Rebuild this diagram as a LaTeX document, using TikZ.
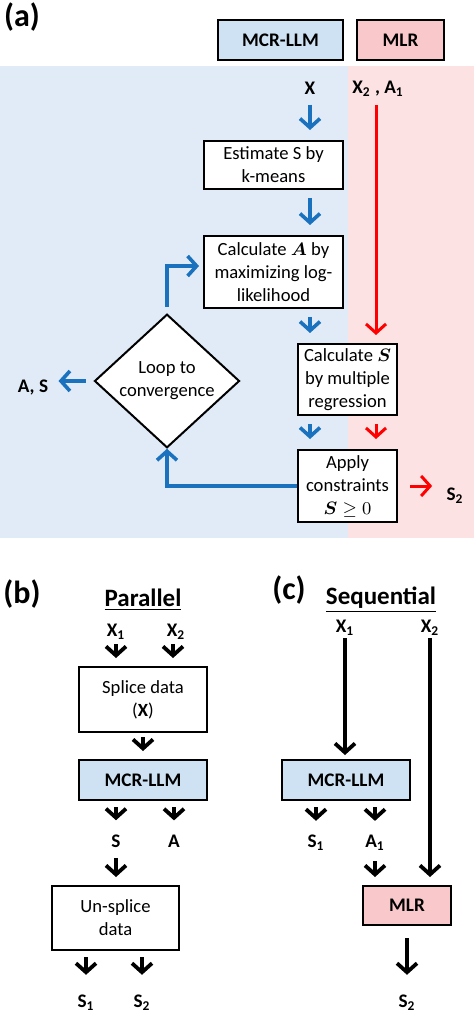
\documentclass[tikz,border=0pt]{standalone}
\usepackage{fontspec}
\setmainfont{Carlito}
\usepackage{amsmath}
\usepackage{amssymb}
\usetikzlibrary{arrows.meta,shapes.geometric}

\definecolor{mcrfill}{HTML}{CFE2F3}
\definecolor{mcrback}{HTML}{E0EBF7}
\definecolor{mlrfill}{HTML}{F9C8CB}
\definecolor{mlrback}{HTML}{FDE2E3}
\definecolor{mcrblue}{HTML}{1A72BE}
\definecolor{mlrred}{HTML}{FF0000}

\tikzset{
	box/.style={draw, line width=1pt, fill=white, align=center, inner sep=0pt,
		font=\fontsize{9.3}{11.5}\selectfont},
	mcrbox/.style={box, fill=mcrfill, font=\bfseries\fontsize{9.6}{11}\selectfont},
	mlrbox/.style={box, fill=mlrfill, font=\bfseries\fontsize{9.6}{11}\selectfont},
	lbl/.style={inner sep=1pt, font=\bfseries\fontsize{9.6}{11}\selectfont},
	panel/.style={inner sep=0pt, font=\bfseries\fontsize{16}{18}\selectfont},
	heading/.style={inner sep=0pt, font=\bfseries\fontsize{12.5}{14}\selectfont},
	barrow/.style={draw=mcrblue, line width=1.8pt, -{Straight Barb[length=4.5pt,width=10pt]}},
	rarrow/.style={draw=mlrred, line width=1.5pt, -{Straight Barb[length=4.5pt,width=10pt]}},
	karrow/.style={draw=black, line width=1.9pt, -{Straight Barb[length=4.5pt,width=10pt]}},
	gap/.style={shorten <=4pt, shorten >=5pt}
}

\begin{document}
\begin{tikzpicture}[x=0.5pt, y=-0.5pt]
	
	\useasboundingbox (0,0) rectangle (474,1015);
	
	% (a)
	\fill[mcrback] (0,66) rectangle (348,538);
	\fill[mlrback] (348,66) rectangle (474,538);
	
	\node[panel] (pa) at (22,17) {(a)};
	\node[mcrbox, minimum width=62.5pt, minimum height=20pt] (hmcr) at (280.5,40) {MCR-LLM};
	\node[mlrbox, minimum width=43.5pt, minimum height=20pt] (hmlr) at (400.5,40) {MLR};
	
	\node[lbl] (x) at (310,88) {X};
	\node[lbl] (xa) at (378,89) {X\textsubscript{2} , A\textsubscript{1}};
	
	\node[box, minimum width=69.5pt, minimum height=24pt] (est) at (273.5,165) {Estimate S by\\k-means};
	\node[box, minimum width=69.5pt, minimum height=36pt] (calcA) at (273.5,272) {Calculate $\boldsymbol{A}$ by\\maximizing log-\\likelihood};
	\node[box, minimum width=49.5pt, minimum height=35.5pt] (calcS) at (347.5,379.5) {Calculate $\boldsymbol{S}$\\by multiple\\regression};
	\node[box, minimum width=49.5pt, minimum height=36pt] (apply) at (347.5,486) {Apply\\constraints\\$\boldsymbol{S}\geq 0$};
	\node[box, diamond, minimum width=72.5pt, minimum height=51pt] (loop) at (167,381) {Loop to\\convergence};
	
	\node[lbl] (as) at (33,388) {A, S};
	\node[lbl] (stwo) at (455,496) {S\textsubscript{2}};
	
	\draw[barrow, gap] (x.south) -- (x.south |- est.north);
	\draw[barrow, gap] (est.south -| x) -- (calcA.north -| x);
	\draw[barrow, gap] (calcA.south -| x) -- (calcS.north -| x);
	\draw[barrow, gap] (calcS.south -| x) -- (apply.north -| x);
	\draw[rarrow, shorten <=3pt, shorten >=4pt] (xa.south -| 376,0) -- (calcS.north -| 376,0);
	\draw[rarrow, gap] (calcS.south -| 376,0) -- (apply.north -| 376,0);
	\draw[rarrow, shorten <=6pt, shorten >=6pt] (apply.east) -- (stwo.west |- apply.east);
	
	\draw[barrow, shorten <=3pt, shorten >=2pt] (loop.north) |- ([yshift=3pt]calcA.west);
	\draw[barrow] (apply.west) -| (loop.south);
	\draw[barrow, shorten <=4pt, shorten >=4pt] (loop.west) -- (as.east |- loop.west);
	
	% (b)
	\node[panel] (pb) at (22,594) {(b)};
	\node[heading] (par) at (143,600) {\underline{Parallel}};
	\node[lbl] (bxone) at (116,632) {X\textsubscript{1}};
	\node[lbl] (bxtwo) at (176,632) {X\textsubscript{2}};
	\node[box, minimum width=64pt, minimum height=32.5pt] (splice) at (143,699.5) {Splice data\\(\textbf{X})};
	\node[mcrbox, minimum width=64pt, minimum height=20pt] (bmcr) at (143,780) {MCR-LLM};
	\node[lbl] (bs) at (116,841) {S};
	\node[lbl] (ba) at (174,841) {A};
	\node[box, minimum width=63.5pt, minimum height=32pt] (unsplice) at (115.5,918) {Un-splice\\data};
	\node[lbl] (bsone) at (86,1003) {S\textsubscript{1}};
	\node[lbl] (bstwo) at (142,1003) {S\textsubscript{2}};
	
	\draw[karrow, shorten <=1pt, shorten >=4pt] (bxone.south) -- (bxone.south |- splice.north);
	\draw[karrow, shorten <=1pt, shorten >=4pt] (bxtwo.south -| 173,0) -- (splice.north -| 173,0);
	\draw[karrow, shorten <=2pt, shorten >=4pt] (splice.south) -- (bmcr.north);
	\draw[karrow, shorten <=3pt, shorten >=6pt] (bmcr.south -| bs) -- (bs.north);
	\draw[karrow, shorten <=3pt, shorten >=6pt] (bmcr.south -| ba) -- (ba.north);
	\draw[karrow, shorten <=4pt, shorten >=4pt] (bs.south) -- (bs.south |- unsplice.north);
	\draw[karrow, shorten <=3pt, shorten >=9pt] (unsplice.south -| bsone) -- (bsone.north);
	\draw[karrow, shorten <=3pt, shorten >=9pt] (unsplice.south -| bstwo) -- (bstwo.north);
	
	% (c)
	\node[panel] (pc) at (289,590) {(c)};
	\node[heading] (seq) at (381,600) {\underline{Sequential}};
	\node[lbl] (cxone) at (345,628) {X\textsubscript{1}};
	\node[lbl] (cxtwo) at (430,628) {X\textsubscript{2}};
	\node[mcrbox, minimum width=64pt, minimum height=20pt] (cmcr) at (346,780) {MCR-LLM};
	\node[lbl] (csone) at (316,843) {S\textsubscript{1}};
	\node[lbl] (caone) at (375,843) {A\textsubscript{1}};
	\node[mlrbox, minimum width=44pt, minimum height=19.5pt] (cmlr) at (407,905.5) {MLR};
	\node[lbl] (cstwo) at (407,1003) {S\textsubscript{2}};
	
	\draw[karrow, shorten >=2pt] (cxone.south) -- (cxone.south |- cmcr.north);
	\draw[karrow, shorten >=4pt] (cxtwo.south) -- (cxtwo.south |- cmlr.north);
	\draw[karrow, shorten <=3pt, shorten >=6pt] (cmcr.south -| csone) -- (csone.north);
	\draw[karrow, shorten <=3pt, shorten >=6pt] (cmcr.south -| caone) -- (caone.north);
	\draw[karrow, shorten <=4pt, shorten >=4pt] (caone.south) -- (caone.south |- cmlr.north);
	\draw[karrow, shorten <=6pt, shorten >=9pt] (cmlr.south) -- (cstwo.north);
	
\end{tikzpicture}
\end{document}
